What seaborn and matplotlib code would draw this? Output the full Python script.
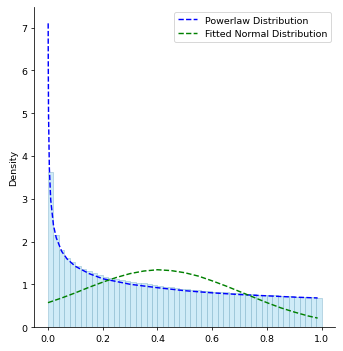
import numpy as np
import pandas as pd
import matplotlib
matplotlib.use("Agg")
import matplotlib.pyplot as plt
import seaborn as sns

# Histogram: 50 bins on [0, 1], bin heights (density)
bin_edges_lo = [i * 0.02 for i in range(50)]
bar_heights = [3.62, 2.15, 1.80, 1.62, 1.52, 1.42, 1.36, 1.30, 1.26, 1.22,
               1.17, 1.14, 1.12, 1.09, 1.07, 1.05, 1.03, 1.02, 1.00, 0.98,
               0.96, 0.94, 0.93, 0.91, 0.90, 0.88, 0.87, 0.86, 0.85, 0.84,
               0.83, 0.82, 0.81, 0.80, 0.79, 0.79, 0.78, 0.77, 0.76, 0.75,
               0.75, 0.74, 0.73, 0.73, 0.72, 0.71, 0.71, 0.70, 0.70, 0.69]

# Powerlaw pdf curve (read points)
pl_x = [0.0007, 0.001, 0.002, 0.005, 0.01, 0.02, 0.03, 0.05, 0.07, 0.10,
        0.15, 0.20, 0.30, 0.40, 0.50, 0.60, 0.70, 0.80, 0.90, 0.985]
pl_y = [7.10, 6.20, 4.97, 3.70, 2.97, 2.38, 2.09, 1.77, 1.59, 1.42,
        1.25, 1.13, 1.00, 0.92, 0.85, 0.80, 0.76, 0.73, 0.70, 0.68]

# Fitted normal curve (read points)
nm_x = [0.00, 0.05, 0.10, 0.15, 0.20, 0.25, 0.30, 0.35, 0.40, 0.45, 0.50,
        0.55, 0.60, 0.65, 0.70, 0.75, 0.80, 0.85, 0.90, 0.95, 0.985]
nm_y = [0.57, 0.68, 0.80, 0.93, 1.05, 1.16, 1.25, 1.31, 1.34, 1.32, 1.27,
        1.19, 1.08, 0.96, 0.83, 0.70, 0.57, 0.45, 0.35, 0.26, 0.21]

plt.style.use("default")
dpi = 68.6
fig = plt.figure(figsize=(343 / dpi, 352 / dpi), dpi=dpi)
ax = fig.add_axes([0.100, 0.068, 0.878, 0.909])

centers = [b + 0.01 for b in bin_edges_lo]
hist_df = pd.DataFrame({"x": centers, "w": bar_heights})
sns.histplot(data=hist_df, x="x", weights="w", bins=50, binrange=(0, 1),
             stat="count", color="skyblue", alpha=0.4, edgecolor="#95bfd3",
             linewidth=0.6, ax=ax)

sns.lineplot(x=pl_x, y=pl_y, color="b", linestyle="--", linewidth=1.5,
             label="Powerlaw Distribution", ax=ax)
sns.lineplot(x=nm_x, y=nm_y, color="g", linestyle="--", linewidth=1.5,
             label="Fitted Normal Distribution", ax=ax)

ax.set_xlabel("")
ax.set_ylabel("Density")
ax.set_xlim(-0.05, 1.05)
ax.set_ylim(0, 7.48)
ax.set_xticks([0.0, 0.2, 0.4, 0.6, 0.8, 1.0])
ax.set_yticks(range(8))
ax.legend(loc="upper right")
sns.despine(ax=ax)

fig.savefig("out.png", dpi=dpi)
